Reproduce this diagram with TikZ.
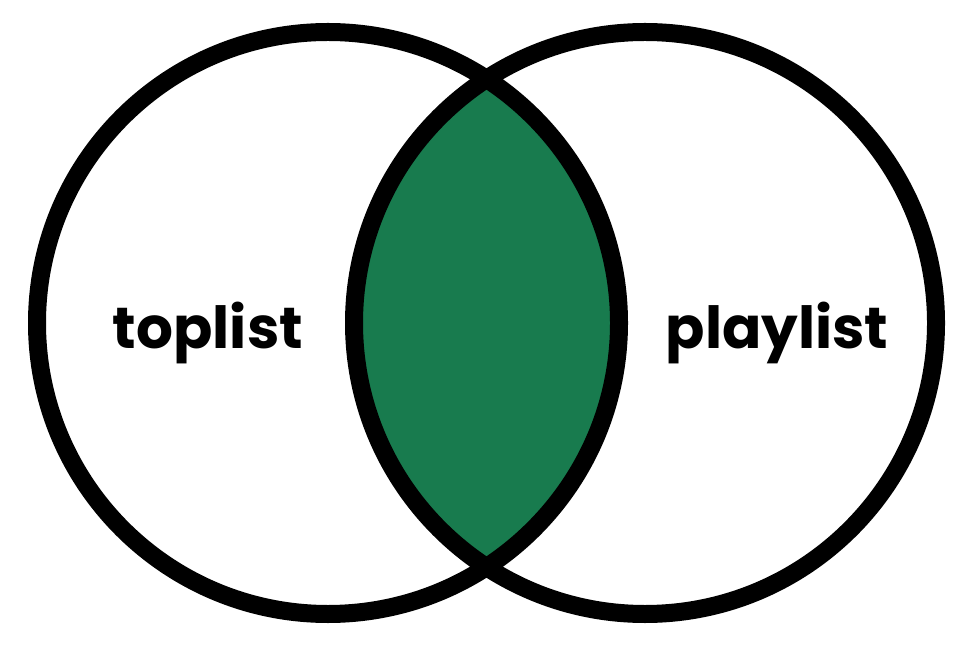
\documentclass[tikz,border=0pt]{standalone}
\usepackage{fontspec}
\setmainfont{Poppins}
\definecolor{lens}{HTML}{187B4E}
\begin{document}
\begin{tikzpicture}[x=1pt,y=1pt,
  ring/.style={draw=black,line width=18pt},
  lbl/.style={font=\fontsize{58}{62}\selectfont\bfseries}]
\useasboundingbox (0,0) rectangle (973,648);
\begin{scope}
  \clip (328,325) circle (291);
  \fill[lens] (645,325) circle (291);
\end{scope}
\node[ring,circle,minimum size=582pt,inner sep=0] (L) at (328,325) {};
\node[ring,circle,minimum size=582pt,inner sep=0] (R) at (645,325) {};
\node[lbl] (t) at (208,315) {toplist};
\node[lbl] (p) at (777,315) {playlist};
\end{tikzpicture}
\end{document}
